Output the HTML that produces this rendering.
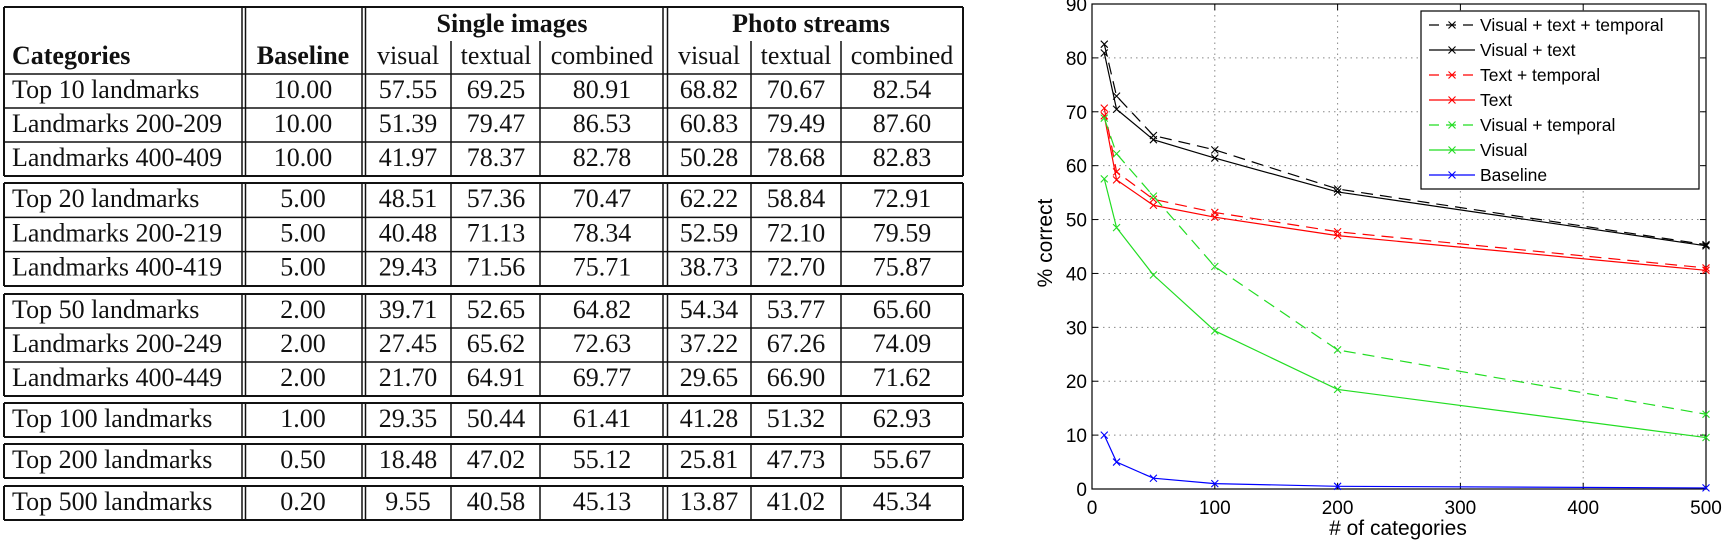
<!DOCTYPE html>
<html><head><meta charset="utf-8"><style>
html,body{margin:0;padding:0;background:#fff;}
svg{display:block;}
.tt{font-family:"Liberation Serif",serif;font-size:26px;fill:#111;}
.hb{font-weight:bold;}
.ax{font-family:"Liberation Sans",sans-serif;font-size:19px;fill:#000;}
.yt{font-family:"Liberation Sans",sans-serif;font-size:21px;fill:#000;}
.lg{font-family:"Liberation Sans",sans-serif;font-size:17.5px;fill:#000;}
</style></head><body>
<svg id="root" width="1726" height="540" viewBox="0 0 1726 540" xmlns="http://www.w3.org/2000/svg">
<g id="table"></g>
<g id="chart"></g>
</svg>
<script>
const categories = ["Top 10 landmarks","Landmarks 200-209","Landmarks 400-409","Top 20 landmarks","Landmarks 200-219","Landmarks 400-419","Top 50 landmarks","Landmarks 200-249","Landmarks 400-449","Top 100 landmarks","Top 200 landmarks","Top 500 landmarks"];
const baselineCol = ["10.00","10.00","10.00","5.00","5.00","5.00","2.00","2.00","2.00","1.00","0.50","0.20"];
const singleVisual = ["57.55","51.39","41.97","48.51","40.48","29.43","39.71","27.45","21.70","29.35","18.48","9.55"];
const singleTextual = ["69.25","79.47","78.37","57.36","71.13","71.56","52.65","65.62","64.91","50.44","47.02","40.58"];
const singleCombined = ["80.91","86.53","82.78","70.47","78.34","75.71","64.82","72.63","69.77","61.41","55.12","45.13"];
const streamVisual = ["68.82","60.83","50.28","62.22","52.59","38.73","54.34","37.22","29.65","41.28","25.81","13.87"];
const streamTextual = ["70.67","79.49","78.68","58.84","72.10","72.70","53.77","67.26","66.90","51.32","47.73","41.02"];
const streamCombined = ["82.54","87.60","82.83","72.91","79.59","75.87","65.60","74.09","71.62","62.93","55.67","45.34"];

// chart data
const xCats = [10,20,50,100,200,500];
const sVTT = [82.54,72.91,65.60,62.93,55.67,45.34];
const sVT = [80.91,70.47,64.82,61.41,55.12,45.13];
const sTT = [70.67,58.84,53.77,51.32,47.73,41.02];
const sT = [69.25,57.36,52.65,50.44,47.02,40.58];
const sVTmp = [68.82,62.22,54.34,41.28,25.81,13.87];
const sV = [57.55,48.51,39.71,29.35,18.48,9.55];
const sB = [10,5,2,1,0.5,0.2];
const xTicks = [0,100,200,300,400,500];
const yTicks = [0,10,20,30,40,50,60,70,80,90];

const NS="http://www.w3.org/2000/svg";
function mk(tag,attrs,parent,text){const e=document.createElementNS(NS,tag);for(const k in attrs)e.setAttribute(k,attrs[k]);if(text!==undefined)e.textContent=text;parent.appendChild(e);return e;}

// ---------- TABLE ----------
const T=document.getElementById('table');
function hl(x1,x2,y,w){const l=mk('line',{x1:x1,x2:x2,y1:y,y2:y,stroke:'#111','stroke-width':w||1.5},T);}
function vl(x,y1,y2,w){const l=mk('line',{x1:x,x2:x,y1:y1,y2:y2,stroke:'#111','stroke-width':w||1.5},T);}
const L=4,R=963;
const groups=[[7,176,[0,1,2],true],[183,286,[3,4,5]],[294,396,[6,7,8]],[403,437,[9]],[444,478,[10]],[486,520,[11]]];
const colCenters=[303,408,496,602,709,796,902];
function drawVerts(y1,y2,header){
  vl(L,y1,y2,2);vl(R,y1,y2,2);
  vl(242,y1,y2);vl(245.5,y1,y2);vl(362,y1,y2);vl(365.5,y1,y2);vl(663,y1,y2);vl(667.5,y1,y2);
  const sy=header?41:y1;
  vl(451,sy,y2);vl(540,sy,y2);vl(751,sy,y2);vl(841,sy,y2);
}
groups.forEach((g,gi)=>{
  const [top,bot,rows,header]=g;
  hl(L,R,top,2);hl(L,R,bot,2);
  drawVerts(top,bot,header);
  let y=top;
  if(header){
    let t;
    t=mk('text',{x:512,y:32,'text-anchor':'middle',class:'tt hb'},T,'Single images');
    t=mk('text',{x:811,y:32,'text-anchor':'middle',class:'tt hb'},T,'Photo streams');
    t=mk('text',{x:12,y:64,class:'tt hb'},T,'Categories');
    t=mk('text',{x:303,y:64,'text-anchor':'middle',class:'tt hb'},T,'Baseline');
    ['visual','textual','combined','visual','textual','combined'].forEach((h,i)=>{const tt=mk('text',{x:colCenters[i+1],y:64,'text-anchor':'middle',class:'tt'},T,h);});
    y=74;hl(L,R,74,1.5);
  }
  const rh=(bot-y)/rows.length;
  rows.forEach((r,ri)=>{
    const ry=y+ri*rh;
    if(ri>0)hl(L,R,ry,1.5);
    const by=ry+24;
    let t=mk('text',{x:12,y:by,class:'tt'},T,categories[r]);
    [baselineCol,singleVisual,singleTextual,singleCombined,streamVisual,streamTextual,streamCombined].forEach((col,ci)=>{
      const c=mk('text',{x:colCenters[ci],y:by,'text-anchor':'middle',class:'tt'},T,col[r]);
    });
  });
});

// ---------- CHART ----------
const C=document.getElementById('chart');
const X0=1092,X1=1706,Y0=489,Y1=4;
const xs=v=>X0+(v/500)*(X1-X0);
const ys=v=>Y0-(v/90)*(Y0-Y1);
xTicks.forEach(t=>{if(t>0&&t<500){const g=mk('line',{x1:xs(t),x2:xs(t),y1:Y1,y2:Y0,stroke:'#888','stroke-width':1,'stroke-dasharray':'1.5,4'},C);}});
yTicks.forEach(t=>{if(t>0&&t<90){const g=mk('line',{x1:X0,x2:X1,y1:ys(t),y2:ys(t),stroke:'#888','stroke-width':1,'stroke-dasharray':'1.5,4'},C);}});
xTicks.forEach(t=>{
  mk('line',{x1:xs(t),x2:xs(t),y1:Y0,y2:Y0-6,stroke:'#000'},C);
  mk('line',{x1:xs(t),x2:xs(t),y1:Y1,y2:Y1+6,stroke:'#000'},C);
  const l=mk('text',{x:xs(t),y:Y0+25,'text-anchor':'middle',class:'ax'},C,String(t));
});
yTicks.forEach(t=>{
  mk('line',{x1:X0,x2:X0+6,y1:ys(t),y2:ys(t),stroke:'#000'},C);
  mk('line',{x1:X1,x2:X1-6,y1:ys(t),y2:ys(t),stroke:'#000'},C);
  const l=mk('text',{x:X0-5,y:ys(t)+7,'text-anchor':'end',class:'ax'},C,String(t));
});
const frame=mk('rect',{x:X0,y:Y1,width:X1-X0,height:Y0-Y1,fill:'none',stroke:'#000','stroke-width':1.2},C);

const xt=mk('text',{x:1398,y:535,'text-anchor':'middle',class:'yt'},C,'# of categories');

const yt=mk('text',{x:0,y:0,'text-anchor':'middle',class:'yt',transform:'translate(1052,243) rotate(-90)'},C,'% correct');


const series=[
 ['Visual + text + temporal',sVTT,'#000',true,'series-visual-text-temporal'],
 ['Visual + text',sVT,'#000',false,'series-visual-text'],
 ['Text + temporal',sTT,'#f00',true,'series-text-temporal'],
 ['Text',sT,'#f00',false,'series-text'],
 ['Visual + temporal',sVTmp,'#2d2',true,'series-visual-temporal'],
 ['Visual',sV,'#2d2',false,'series-visual'],
 ['Baseline',sB,'#00f',false,'series-baseline']];
function cross(px,py,col,parent){
  mk('path',{d:`M${px-3.5},${py-3.5}L${px+3.5},${py+3.5}M${px-3.5},${py+3.5}L${px+3.5},${py-3.5}`,stroke:col,'stroke-width':1.1,fill:'none'},parent);
}
series.forEach(s=>{
  const g=mk('g',{},C);
  
  
  const pts=s[1].map((v,i)=>xs(xCats[i])+','+ys(v)).join(' ');
  const attrs={points:pts,fill:'none',stroke:s[2],'stroke-width':1.2};
  if(s[3])attrs['stroke-dasharray']='12,7';
  mk('polyline',attrs,g);
  s[1].forEach((v,i)=>cross(xs(xCats[i]),ys(v),s[2],g));
});
const lg=mk('g',{},C);


mk('rect',{x:1421,y:11,width:278,height:178,fill:'#fff',stroke:'#000','stroke-width':1.2},lg);
series.forEach((s,i)=>{
  const e=mk('g',{},lg);
  
  
  const y=25+i*25;
  const a={x1:1429,x2:1475,y1:y,y2:y,stroke:s[2],'stroke-width':1.2};
  if(s[3])a['stroke-dasharray']='10,7';
  mk('line',a,e);
  cross(1452,y,s[2],e);
  mk('text',{x:1480,y:y+6,class:'lg'},e,s[0]);
});
</script>
</body></html>
